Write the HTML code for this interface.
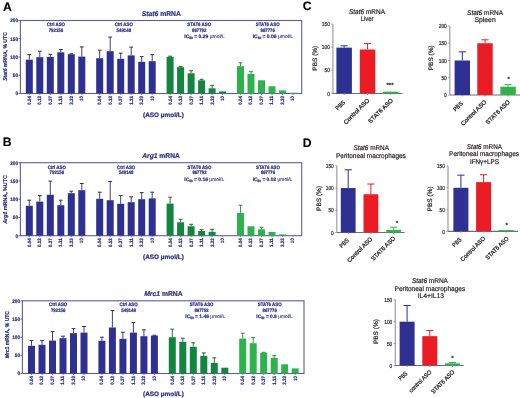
<!DOCTYPE html>
<html><head><meta charset="utf-8"><style>
html,body{margin:0;padding:0;background:#fff;width:520px;height:398px;overflow:hidden}
svg{display:block;will-change:transform;filter:blur(0.3px);font-family:"Liberation Sans",sans-serif}
text{text-rendering:geometricPrecision}
</style></head><body>
<svg width="520" height="398" viewBox="0 0 520 398">
<rect width="520" height="398" fill="#fff"/>
<rect x="20.4" y="20.5" width="281.3" height="73" fill="none" stroke="#5f5f98" stroke-width="1.1"/>
<line x1="18.6" y1="93.5" x2="20.4" y2="93.5" stroke="#5f5f98" stroke-width="1.1"/>
<text x="18" y="95.4" font-size="5.1" font-weight="bold" fill="#2b2d80" text-anchor="end" stroke="#2b2d80" stroke-width="0.22" textLength="2.6" lengthAdjust="spacingAndGlyphs" >0</text>
<line x1="18.6" y1="75.25" x2="20.4" y2="75.25" stroke="#5f5f98" stroke-width="1.1"/>
<text x="18" y="77.15" font-size="5.1" font-weight="bold" fill="#2b2d80" text-anchor="end" stroke="#2b2d80" stroke-width="0.22" textLength="5.2" lengthAdjust="spacingAndGlyphs" >50</text>
<line x1="18.6" y1="57" x2="20.4" y2="57" stroke="#5f5f98" stroke-width="1.1"/>
<text x="18" y="58.9" font-size="5.1" font-weight="bold" fill="#2b2d80" text-anchor="end" stroke="#2b2d80" stroke-width="0.22" textLength="7.8" lengthAdjust="spacingAndGlyphs" >100</text>
<line x1="18.6" y1="38.75" x2="20.4" y2="38.75" stroke="#5f5f98" stroke-width="1.1"/>
<text x="18" y="40.65" font-size="5.1" font-weight="bold" fill="#2b2d80" text-anchor="end" stroke="#2b2d80" stroke-width="0.22" textLength="7.8" lengthAdjust="spacingAndGlyphs" >150</text>
<line x1="18.6" y1="20.5" x2="20.4" y2="20.5" stroke="#5f5f98" stroke-width="1.1"/>
<text x="18" y="22.4" font-size="5.1" font-weight="bold" fill="#2b2d80" text-anchor="end" stroke="#2b2d80" stroke-width="0.22" textLength="7.8" lengthAdjust="spacingAndGlyphs" >200</text>
<text transform="translate(6.9,56.5) rotate(-90)" font-size="5.6" font-weight="bold" fill="#2b2d80" stroke="#2b2d80" stroke-width="0.2" text-anchor="middle" textLength="48.6" lengthAdjust="spacingAndGlyphs"><tspan font-style="italic">Stat6</tspan> mRNA, % UTC</text>
<text x="141.8" y="15.9" font-size="7" font-weight="bold" fill="#2b2d80" stroke="#2b2d80" stroke-width="0.2" textLength="39" lengthAdjust="spacingAndGlyphs"><tspan font-style="italic">Stat6</tspan> mRNA</text>
<line x1="29.3" y1="54.6" x2="29.3" y2="59.7" stroke="#2a2a66" stroke-width="0.9"/>
<line x1="27.4" y1="54.6" x2="31.2" y2="54.6" stroke="#2a2a66" stroke-width="1"/>
<rect x="25.8" y="59.7" width="7" height="33.8" fill="#2e3192"/>
<line x1="29.3" y1="93.5" x2="29.3" y2="95" stroke="#5f5f98" stroke-width="0.7"/>
<text transform="translate(30.7,96.1) rotate(-90)" font-size="4.9" font-weight="bold" fill="#2b2d80" text-anchor="end" stroke="#2b2d80" stroke-width="0.22" textLength="8.6" lengthAdjust="spacingAndGlyphs" >0.04</text>
<line x1="39.8" y1="51.2" x2="39.8" y2="57.2" stroke="#2a2a66" stroke-width="0.9"/>
<line x1="37.9" y1="51.2" x2="41.7" y2="51.2" stroke="#2a2a66" stroke-width="1"/>
<rect x="36.3" y="57.2" width="7" height="36.3" fill="#2e3192"/>
<line x1="39.8" y1="93.5" x2="39.8" y2="95" stroke="#5f5f98" stroke-width="0.7"/>
<text transform="translate(41.2,96.1) rotate(-90)" font-size="4.9" font-weight="bold" fill="#2b2d80" text-anchor="end" stroke="#2b2d80" stroke-width="0.22" textLength="8.6" lengthAdjust="spacingAndGlyphs" >0.12</text>
<line x1="50.3" y1="54.3" x2="50.3" y2="56.9" stroke="#2a2a66" stroke-width="0.9"/>
<line x1="48.4" y1="54.3" x2="52.2" y2="54.3" stroke="#2a2a66" stroke-width="1"/>
<rect x="46.8" y="56.9" width="7" height="36.6" fill="#2e3192"/>
<line x1="50.3" y1="93.5" x2="50.3" y2="95" stroke="#5f5f98" stroke-width="0.7"/>
<text transform="translate(51.7,96.1) rotate(-90)" font-size="4.9" font-weight="bold" fill="#2b2d80" text-anchor="end" stroke="#2b2d80" stroke-width="0.22" textLength="8.6" lengthAdjust="spacingAndGlyphs" >0.37</text>
<line x1="60.8" y1="49.5" x2="60.8" y2="52.3" stroke="#2a2a66" stroke-width="0.9"/>
<line x1="58.9" y1="49.5" x2="62.7" y2="49.5" stroke="#2a2a66" stroke-width="1"/>
<rect x="57.3" y="52.3" width="7" height="41.2" fill="#2e3192"/>
<line x1="60.8" y1="93.5" x2="60.8" y2="95" stroke="#5f5f98" stroke-width="0.7"/>
<text transform="translate(62.2,96.1) rotate(-90)" font-size="4.9" font-weight="bold" fill="#2b2d80" text-anchor="end" stroke="#2b2d80" stroke-width="0.22" textLength="8.6" lengthAdjust="spacingAndGlyphs" >1.11</text>
<line x1="71.3" y1="53.8" x2="71.3" y2="54.2" stroke="#2a2a66" stroke-width="0.9"/>
<line x1="69.4" y1="53.8" x2="73.2" y2="53.8" stroke="#2a2a66" stroke-width="1"/>
<rect x="67.8" y="54.2" width="7" height="39.3" fill="#2e3192"/>
<line x1="71.3" y1="93.5" x2="71.3" y2="95" stroke="#5f5f98" stroke-width="0.7"/>
<text transform="translate(72.7,96.1) rotate(-90)" font-size="4.9" font-weight="bold" fill="#2b2d80" text-anchor="end" stroke="#2b2d80" stroke-width="0.22" textLength="8.6" lengthAdjust="spacingAndGlyphs" >3.33</text>
<line x1="81.8" y1="46.9" x2="81.8" y2="56.6" stroke="#2a2a66" stroke-width="0.9"/>
<line x1="79.9" y1="46.9" x2="83.7" y2="46.9" stroke="#2a2a66" stroke-width="1"/>
<rect x="78.3" y="56.6" width="7" height="36.9" fill="#2e3192"/>
<line x1="81.8" y1="93.5" x2="81.8" y2="95" stroke="#5f5f98" stroke-width="0.7"/>
<text transform="translate(83.2,96.1) rotate(-90)" font-size="4.9" font-weight="bold" fill="#2b2d80" text-anchor="end" stroke="#2b2d80" stroke-width="0.22" textLength="4.6" lengthAdjust="spacingAndGlyphs" >10</text>
<line x1="99.7" y1="50.2" x2="99.7" y2="58.2" stroke="#2a2a66" stroke-width="0.9"/>
<line x1="97.8" y1="50.2" x2="101.6" y2="50.2" stroke="#2a2a66" stroke-width="1"/>
<rect x="96.2" y="58.2" width="7" height="35.3" fill="#2e3192"/>
<line x1="99.7" y1="93.5" x2="99.7" y2="95" stroke="#5f5f98" stroke-width="0.7"/>
<text transform="translate(101.1,96.1) rotate(-90)" font-size="4.9" font-weight="bold" fill="#2b2d80" text-anchor="end" stroke="#2b2d80" stroke-width="0.22" textLength="8.6" lengthAdjust="spacingAndGlyphs" >0.04</text>
<line x1="110.2" y1="37.1" x2="110.2" y2="51.2" stroke="#2a2a66" stroke-width="0.9"/>
<line x1="108.3" y1="37.1" x2="112.1" y2="37.1" stroke="#2a2a66" stroke-width="1"/>
<rect x="106.7" y="51.2" width="7" height="42.3" fill="#2e3192"/>
<line x1="110.2" y1="93.5" x2="110.2" y2="95" stroke="#5f5f98" stroke-width="0.7"/>
<text transform="translate(111.6,96.1) rotate(-90)" font-size="4.9" font-weight="bold" fill="#2b2d80" text-anchor="end" stroke="#2b2d80" stroke-width="0.22" textLength="8.6" lengthAdjust="spacingAndGlyphs" >0.12</text>
<line x1="120.7" y1="53.2" x2="120.7" y2="58.8" stroke="#2a2a66" stroke-width="0.9"/>
<line x1="118.8" y1="53.2" x2="122.6" y2="53.2" stroke="#2a2a66" stroke-width="1"/>
<rect x="117.2" y="58.8" width="7" height="34.7" fill="#2e3192"/>
<line x1="120.7" y1="93.5" x2="120.7" y2="95" stroke="#5f5f98" stroke-width="0.7"/>
<text transform="translate(122.1,96.1) rotate(-90)" font-size="4.9" font-weight="bold" fill="#2b2d80" text-anchor="end" stroke="#2b2d80" stroke-width="0.22" textLength="8.6" lengthAdjust="spacingAndGlyphs" >0.37</text>
<line x1="131.2" y1="47.1" x2="131.2" y2="55.4" stroke="#2a2a66" stroke-width="0.9"/>
<line x1="129.3" y1="47.1" x2="133.1" y2="47.1" stroke="#2a2a66" stroke-width="1"/>
<rect x="127.7" y="55.4" width="7" height="38.1" fill="#2e3192"/>
<line x1="131.2" y1="93.5" x2="131.2" y2="95" stroke="#5f5f98" stroke-width="0.7"/>
<text transform="translate(132.6,96.1) rotate(-90)" font-size="4.9" font-weight="bold" fill="#2b2d80" text-anchor="end" stroke="#2b2d80" stroke-width="0.22" textLength="8.6" lengthAdjust="spacingAndGlyphs" >1.11</text>
<line x1="141.7" y1="56.6" x2="141.7" y2="61.8" stroke="#2a2a66" stroke-width="0.9"/>
<line x1="139.8" y1="56.6" x2="143.6" y2="56.6" stroke="#2a2a66" stroke-width="1"/>
<rect x="138.2" y="61.8" width="7" height="31.7" fill="#2e3192"/>
<line x1="141.7" y1="93.5" x2="141.7" y2="95" stroke="#5f5f98" stroke-width="0.7"/>
<text transform="translate(143.1,96.1) rotate(-90)" font-size="4.9" font-weight="bold" fill="#2b2d80" text-anchor="end" stroke="#2b2d80" stroke-width="0.22" textLength="8.6" lengthAdjust="spacingAndGlyphs" >3.33</text>
<line x1="152.2" y1="54.6" x2="152.2" y2="61.2" stroke="#2a2a66" stroke-width="0.9"/>
<line x1="150.3" y1="54.6" x2="154.1" y2="54.6" stroke="#2a2a66" stroke-width="1"/>
<rect x="148.7" y="61.2" width="7" height="32.3" fill="#2e3192"/>
<line x1="152.2" y1="93.5" x2="152.2" y2="95" stroke="#5f5f98" stroke-width="0.7"/>
<text transform="translate(153.6,96.1) rotate(-90)" font-size="4.9" font-weight="bold" fill="#2b2d80" text-anchor="end" stroke="#2b2d80" stroke-width="0.22" textLength="4.6" lengthAdjust="spacingAndGlyphs" >10</text>
<line x1="170.1" y1="56.2" x2="170.1" y2="56.8" stroke="#235c38" stroke-width="0.9"/>
<line x1="168.2" y1="56.2" x2="172" y2="56.2" stroke="#235c38" stroke-width="1"/>
<rect x="166.6" y="56.8" width="7" height="36.7" fill="#12853e"/>
<line x1="170.1" y1="93.5" x2="170.1" y2="95" stroke="#5f5f98" stroke-width="0.7"/>
<text transform="translate(171.5,96.1) rotate(-90)" font-size="4.9" font-weight="bold" fill="#2b2d80" text-anchor="end" stroke="#2b2d80" stroke-width="0.22" textLength="8.6" lengthAdjust="spacingAndGlyphs" >0.04</text>
<line x1="180.6" y1="66.4" x2="180.6" y2="67.2" stroke="#235c38" stroke-width="0.9"/>
<line x1="178.7" y1="66.4" x2="182.5" y2="66.4" stroke="#235c38" stroke-width="1"/>
<rect x="177.1" y="67.2" width="7" height="26.3" fill="#12853e"/>
<line x1="180.6" y1="93.5" x2="180.6" y2="95" stroke="#5f5f98" stroke-width="0.7"/>
<text transform="translate(182,96.1) rotate(-90)" font-size="4.9" font-weight="bold" fill="#2b2d80" text-anchor="end" stroke="#2b2d80" stroke-width="0.22" textLength="8.6" lengthAdjust="spacingAndGlyphs" >0.12</text>
<line x1="191.1" y1="70.7" x2="191.1" y2="73.3" stroke="#235c38" stroke-width="0.9"/>
<line x1="189.2" y1="70.7" x2="193" y2="70.7" stroke="#235c38" stroke-width="1"/>
<rect x="187.6" y="73.3" width="7" height="20.2" fill="#12853e"/>
<line x1="191.1" y1="93.5" x2="191.1" y2="95" stroke="#5f5f98" stroke-width="0.7"/>
<text transform="translate(192.5,96.1) rotate(-90)" font-size="4.9" font-weight="bold" fill="#2b2d80" text-anchor="end" stroke="#2b2d80" stroke-width="0.22" textLength="8.6" lengthAdjust="spacingAndGlyphs" >0.37</text>
<line x1="201.6" y1="79.3" x2="201.6" y2="80.3" stroke="#235c38" stroke-width="0.9"/>
<line x1="199.7" y1="79.3" x2="203.5" y2="79.3" stroke="#235c38" stroke-width="1"/>
<rect x="198.1" y="80.3" width="7" height="13.2" fill="#12853e"/>
<line x1="201.6" y1="93.5" x2="201.6" y2="95" stroke="#5f5f98" stroke-width="0.7"/>
<text transform="translate(203,96.1) rotate(-90)" font-size="4.9" font-weight="bold" fill="#2b2d80" text-anchor="end" stroke="#2b2d80" stroke-width="0.22" textLength="8.6" lengthAdjust="spacingAndGlyphs" >1.11</text>
<line x1="212.1" y1="85.3" x2="212.1" y2="88.3" stroke="#235c38" stroke-width="0.9"/>
<line x1="210.2" y1="85.3" x2="214" y2="85.3" stroke="#235c38" stroke-width="1"/>
<rect x="208.6" y="88.3" width="7" height="5.2" fill="#12853e"/>
<line x1="212.1" y1="93.5" x2="212.1" y2="95" stroke="#5f5f98" stroke-width="0.7"/>
<text transform="translate(213.5,96.1) rotate(-90)" font-size="4.9" font-weight="bold" fill="#2b2d80" text-anchor="end" stroke="#2b2d80" stroke-width="0.22" textLength="8.6" lengthAdjust="spacingAndGlyphs" >3.33</text>
<rect x="219.1" y="91.4" width="7" height="2.1" fill="#12853e"/>
<line x1="222.6" y1="93.5" x2="222.6" y2="95" stroke="#5f5f98" stroke-width="0.7"/>
<text transform="translate(224,96.1) rotate(-90)" font-size="4.9" font-weight="bold" fill="#2b2d80" text-anchor="end" stroke="#2b2d80" stroke-width="0.22" textLength="4.6" lengthAdjust="spacingAndGlyphs" >10</text>
<line x1="240.5" y1="62.8" x2="240.5" y2="66.2" stroke="#2f7f45" stroke-width="0.9"/>
<line x1="238.6" y1="62.8" x2="242.4" y2="62.8" stroke="#2f7f45" stroke-width="1"/>
<rect x="237" y="66.2" width="7" height="27.3" fill="#2db34b"/>
<line x1="240.5" y1="93.5" x2="240.5" y2="95" stroke="#5f5f98" stroke-width="0.7"/>
<text transform="translate(241.9,96.1) rotate(-90)" font-size="4.9" font-weight="bold" fill="#2b2d80" text-anchor="end" stroke="#2b2d80" stroke-width="0.22" textLength="8.6" lengthAdjust="spacingAndGlyphs" >0.04</text>
<line x1="251" y1="71.7" x2="251" y2="73.9" stroke="#2f7f45" stroke-width="0.9"/>
<line x1="249.1" y1="71.7" x2="252.9" y2="71.7" stroke="#2f7f45" stroke-width="1"/>
<rect x="247.5" y="73.9" width="7" height="19.6" fill="#2db34b"/>
<line x1="251" y1="93.5" x2="251" y2="95" stroke="#5f5f98" stroke-width="0.7"/>
<text transform="translate(252.4,96.1) rotate(-90)" font-size="4.9" font-weight="bold" fill="#2b2d80" text-anchor="end" stroke="#2b2d80" stroke-width="0.22" textLength="8.6" lengthAdjust="spacingAndGlyphs" >0.12</text>
<rect x="258" y="80.3" width="7" height="13.2" fill="#2db34b"/>
<line x1="261.5" y1="93.5" x2="261.5" y2="95" stroke="#5f5f98" stroke-width="0.7"/>
<text transform="translate(262.9,96.1) rotate(-90)" font-size="4.9" font-weight="bold" fill="#2b2d80" text-anchor="end" stroke="#2b2d80" stroke-width="0.22" textLength="8.6" lengthAdjust="spacingAndGlyphs" >0.37</text>
<rect x="268.5" y="86.3" width="7" height="7.2" fill="#2db34b"/>
<line x1="272" y1="93.5" x2="272" y2="95" stroke="#5f5f98" stroke-width="0.7"/>
<text transform="translate(273.4,96.1) rotate(-90)" font-size="4.9" font-weight="bold" fill="#2b2d80" text-anchor="end" stroke="#2b2d80" stroke-width="0.22" textLength="8.6" lengthAdjust="spacingAndGlyphs" >1.11</text>
<rect x="279" y="90.4" width="7" height="3.1" fill="#2db34b"/>
<line x1="282.5" y1="93.5" x2="282.5" y2="95" stroke="#5f5f98" stroke-width="0.7"/>
<text transform="translate(283.9,96.1) rotate(-90)" font-size="4.9" font-weight="bold" fill="#2b2d80" text-anchor="end" stroke="#2b2d80" stroke-width="0.22" textLength="8.6" lengthAdjust="spacingAndGlyphs" >3.33</text>
<rect x="289.5" y="92.8" width="7" height="0.7" fill="#2db34b"/>
<line x1="293" y1="93.5" x2="293" y2="95" stroke="#5f5f98" stroke-width="0.7"/>
<text transform="translate(294.4,96.1) rotate(-90)" font-size="4.9" font-weight="bold" fill="#2b2d80" text-anchor="end" stroke="#2b2d80" stroke-width="0.22" textLength="4.6" lengthAdjust="spacingAndGlyphs" >10</text>
<text x="55.9" y="25.9" font-size="5" font-weight="bold" fill="#2b2d80" text-anchor="middle" stroke="#2b2d80" stroke-width="0.22" textLength="18.2" lengthAdjust="spacingAndGlyphs" >Ctrl ASO</text>
<text x="55.9" y="31.8" font-size="5" font-weight="bold" fill="#2b2d80" text-anchor="middle" stroke="#2b2d80" stroke-width="0.22" textLength="14.5" lengthAdjust="spacingAndGlyphs" >792156</text>
<text x="123.8" y="25.9" font-size="5" font-weight="bold" fill="#2b2d80" text-anchor="middle" stroke="#2b2d80" stroke-width="0.22" textLength="18.2" lengthAdjust="spacingAndGlyphs" >Ctrl ASO</text>
<text x="123.8" y="31.8" font-size="5" font-weight="bold" fill="#2b2d80" text-anchor="middle" stroke="#2b2d80" stroke-width="0.22" textLength="14.5" lengthAdjust="spacingAndGlyphs" >549148</text>
<text x="199.2" y="25.9" font-size="5" font-weight="bold" fill="#2b2d80" text-anchor="middle" stroke="#2b2d80" stroke-width="0.22" textLength="23.8" lengthAdjust="spacingAndGlyphs" >STAT6 ASO</text>
<text x="199.2" y="31.8" font-size="5" font-weight="bold" fill="#2b2d80" text-anchor="middle" stroke="#2b2d80" stroke-width="0.22" textLength="14.2" lengthAdjust="spacingAndGlyphs" >867792</text>
<text x="184.3" y="37.7" font-size="5.0" font-weight="bold" fill="#2b2d80" stroke="#2b2d80" stroke-width="0.2" textLength="40.5" lengthAdjust="spacingAndGlyphs">IC<tspan font-size="3.2" dy="1.1">50</tspan><tspan dy="-1.1"> = 0.29 </tspan><tspan font-weight="normal" stroke-width="0.1">µmol/L</tspan></text>
<text x="267.7" y="25.9" font-size="5" font-weight="bold" fill="#2b2d80" text-anchor="middle" stroke="#2b2d80" stroke-width="0.22" textLength="23.8" lengthAdjust="spacingAndGlyphs" >STAT6 ASO</text>
<text x="267.7" y="31.8" font-size="5" font-weight="bold" fill="#2b2d80" text-anchor="middle" stroke="#2b2d80" stroke-width="0.22" textLength="14.2" lengthAdjust="spacingAndGlyphs" >867776</text>
<text x="252.7" y="37.7" font-size="5.0" font-weight="bold" fill="#2b2d80" stroke="#2b2d80" stroke-width="0.2" textLength="40.2" lengthAdjust="spacingAndGlyphs">IC<tspan font-size="3.2" dy="1.1">50</tspan><tspan dy="-1.1"> = 0.06 </tspan><tspan font-weight="normal" stroke-width="0.1">µmol/L</tspan></text>
<text x="143" y="116.6" font-size="6.4" font-weight="bold" fill="#2b2d80" text-anchor="start" stroke="#2b2d80" stroke-width="0.22" textLength="40.8" lengthAdjust="spacingAndGlyphs" >(ASO µmol/L)</text>
<rect x="20.4" y="162.7" width="281.3" height="73" fill="none" stroke="#5f5f98" stroke-width="1.1"/>
<line x1="18.6" y1="235.7" x2="20.4" y2="235.7" stroke="#5f5f98" stroke-width="1.1"/>
<text x="18" y="237.6" font-size="5.1" font-weight="bold" fill="#2b2d80" text-anchor="end" stroke="#2b2d80" stroke-width="0.22" textLength="2.6" lengthAdjust="spacingAndGlyphs" >0</text>
<line x1="18.6" y1="217.45" x2="20.4" y2="217.45" stroke="#5f5f98" stroke-width="1.1"/>
<text x="18" y="219.35" font-size="5.1" font-weight="bold" fill="#2b2d80" text-anchor="end" stroke="#2b2d80" stroke-width="0.22" textLength="5.2" lengthAdjust="spacingAndGlyphs" >50</text>
<line x1="18.6" y1="199.2" x2="20.4" y2="199.2" stroke="#5f5f98" stroke-width="1.1"/>
<text x="18" y="201.1" font-size="5.1" font-weight="bold" fill="#2b2d80" text-anchor="end" stroke="#2b2d80" stroke-width="0.22" textLength="7.8" lengthAdjust="spacingAndGlyphs" >100</text>
<line x1="18.6" y1="180.95" x2="20.4" y2="180.95" stroke="#5f5f98" stroke-width="1.1"/>
<text x="18" y="182.85" font-size="5.1" font-weight="bold" fill="#2b2d80" text-anchor="end" stroke="#2b2d80" stroke-width="0.22" textLength="7.8" lengthAdjust="spacingAndGlyphs" >150</text>
<line x1="18.6" y1="162.7" x2="20.4" y2="162.7" stroke="#5f5f98" stroke-width="1.1"/>
<text x="18" y="164.6" font-size="5.1" font-weight="bold" fill="#2b2d80" text-anchor="end" stroke="#2b2d80" stroke-width="0.22" textLength="7.8" lengthAdjust="spacingAndGlyphs" >200</text>
<text transform="translate(6.9,199.5) rotate(-90)" font-size="5.6" font-weight="bold" fill="#2b2d80" stroke="#2b2d80" stroke-width="0.2" text-anchor="middle" textLength="48.5" lengthAdjust="spacingAndGlyphs"><tspan font-style="italic">Arg1</tspan> mRNA, %UTC</text>
<text x="142.2" y="157.8" font-size="7" font-weight="bold" fill="#2b2d80" stroke="#2b2d80" stroke-width="0.2" textLength="37.7" lengthAdjust="spacingAndGlyphs"><tspan font-style="italic">Arg1</tspan> mRNA</text>
<line x1="29.3" y1="200.2" x2="29.3" y2="205.8" stroke="#2a2a66" stroke-width="0.9"/>
<line x1="27.4" y1="200.2" x2="31.2" y2="200.2" stroke="#2a2a66" stroke-width="1"/>
<rect x="25.8" y="205.8" width="7" height="29.9" fill="#2e3192"/>
<line x1="29.3" y1="235.7" x2="29.3" y2="237.2" stroke="#5f5f98" stroke-width="0.7"/>
<text transform="translate(30.7,238.3) rotate(-90)" font-size="4.9" font-weight="bold" fill="#2b2d80" text-anchor="end" stroke="#2b2d80" stroke-width="0.22" textLength="8.6" lengthAdjust="spacingAndGlyphs" >0.04</text>
<line x1="39.8" y1="195.6" x2="39.8" y2="201.6" stroke="#2a2a66" stroke-width="0.9"/>
<line x1="37.9" y1="195.6" x2="41.7" y2="195.6" stroke="#2a2a66" stroke-width="1"/>
<rect x="36.3" y="201.6" width="7" height="34.1" fill="#2e3192"/>
<line x1="39.8" y1="235.7" x2="39.8" y2="237.2" stroke="#5f5f98" stroke-width="0.7"/>
<text transform="translate(41.2,238.3) rotate(-90)" font-size="4.9" font-weight="bold" fill="#2b2d80" text-anchor="end" stroke="#2b2d80" stroke-width="0.22" textLength="8.6" lengthAdjust="spacingAndGlyphs" >0.12</text>
<line x1="50.3" y1="181.1" x2="50.3" y2="194.8" stroke="#2a2a66" stroke-width="0.9"/>
<line x1="48.4" y1="181.1" x2="52.2" y2="181.1" stroke="#2a2a66" stroke-width="1"/>
<rect x="46.8" y="194.8" width="7" height="40.9" fill="#2e3192"/>
<line x1="50.3" y1="235.7" x2="50.3" y2="237.2" stroke="#5f5f98" stroke-width="0.7"/>
<text transform="translate(51.7,238.3) rotate(-90)" font-size="4.9" font-weight="bold" fill="#2b2d80" text-anchor="end" stroke="#2b2d80" stroke-width="0.22" textLength="8.6" lengthAdjust="spacingAndGlyphs" >0.37</text>
<line x1="60.8" y1="200.2" x2="60.8" y2="205.2" stroke="#2a2a66" stroke-width="0.9"/>
<line x1="58.9" y1="200.2" x2="62.7" y2="200.2" stroke="#2a2a66" stroke-width="1"/>
<rect x="57.3" y="205.2" width="7" height="30.5" fill="#2e3192"/>
<line x1="60.8" y1="235.7" x2="60.8" y2="237.2" stroke="#5f5f98" stroke-width="0.7"/>
<text transform="translate(62.2,238.3) rotate(-90)" font-size="4.9" font-weight="bold" fill="#2b2d80" text-anchor="end" stroke="#2b2d80" stroke-width="0.22" textLength="8.6" lengthAdjust="spacingAndGlyphs" >1.11</text>
<line x1="71.3" y1="191.2" x2="71.3" y2="193.2" stroke="#2a2a66" stroke-width="0.9"/>
<line x1="69.4" y1="191.2" x2="73.2" y2="191.2" stroke="#2a2a66" stroke-width="1"/>
<rect x="67.8" y="193.2" width="7" height="42.5" fill="#2e3192"/>
<line x1="71.3" y1="235.7" x2="71.3" y2="237.2" stroke="#5f5f98" stroke-width="0.7"/>
<text transform="translate(72.7,238.3) rotate(-90)" font-size="4.9" font-weight="bold" fill="#2b2d80" text-anchor="end" stroke="#2b2d80" stroke-width="0.22" textLength="8.6" lengthAdjust="spacingAndGlyphs" >3.33</text>
<line x1="81.8" y1="183.5" x2="81.8" y2="190.2" stroke="#2a2a66" stroke-width="0.9"/>
<line x1="79.9" y1="183.5" x2="83.7" y2="183.5" stroke="#2a2a66" stroke-width="1"/>
<rect x="78.3" y="190.2" width="7" height="45.5" fill="#2e3192"/>
<line x1="81.8" y1="235.7" x2="81.8" y2="237.2" stroke="#5f5f98" stroke-width="0.7"/>
<text transform="translate(83.2,238.3) rotate(-90)" font-size="4.9" font-weight="bold" fill="#2b2d80" text-anchor="end" stroke="#2b2d80" stroke-width="0.22" textLength="4.6" lengthAdjust="spacingAndGlyphs" >10</text>
<line x1="99.7" y1="192.2" x2="99.7" y2="198.8" stroke="#2a2a66" stroke-width="0.9"/>
<line x1="97.8" y1="192.2" x2="101.6" y2="192.2" stroke="#2a2a66" stroke-width="1"/>
<rect x="96.2" y="198.8" width="7" height="36.9" fill="#2e3192"/>
<line x1="99.7" y1="235.7" x2="99.7" y2="237.2" stroke="#5f5f98" stroke-width="0.7"/>
<text transform="translate(101.1,238.3) rotate(-90)" font-size="4.9" font-weight="bold" fill="#2b2d80" text-anchor="end" stroke="#2b2d80" stroke-width="0.22" textLength="8.6" lengthAdjust="spacingAndGlyphs" >0.04</text>
<line x1="110.2" y1="181.5" x2="110.2" y2="200.2" stroke="#2a2a66" stroke-width="0.9"/>
<line x1="108.3" y1="181.5" x2="112.1" y2="181.5" stroke="#2a2a66" stroke-width="1"/>
<rect x="106.7" y="200.2" width="7" height="35.5" fill="#2e3192"/>
<line x1="110.2" y1="235.7" x2="110.2" y2="237.2" stroke="#5f5f98" stroke-width="0.7"/>
<text transform="translate(111.6,238.3) rotate(-90)" font-size="4.9" font-weight="bold" fill="#2b2d80" text-anchor="end" stroke="#2b2d80" stroke-width="0.22" textLength="8.6" lengthAdjust="spacingAndGlyphs" >0.12</text>
<line x1="120.7" y1="195.6" x2="120.7" y2="203.8" stroke="#2a2a66" stroke-width="0.9"/>
<line x1="118.8" y1="195.6" x2="122.6" y2="195.6" stroke="#2a2a66" stroke-width="1"/>
<rect x="117.2" y="203.8" width="7" height="31.9" fill="#2e3192"/>
<line x1="120.7" y1="235.7" x2="120.7" y2="237.2" stroke="#5f5f98" stroke-width="0.7"/>
<text transform="translate(122.1,238.3) rotate(-90)" font-size="4.9" font-weight="bold" fill="#2b2d80" text-anchor="end" stroke="#2b2d80" stroke-width="0.22" textLength="8.6" lengthAdjust="spacingAndGlyphs" >0.37</text>
<line x1="131.2" y1="196.8" x2="131.2" y2="202.2" stroke="#2a2a66" stroke-width="0.9"/>
<line x1="129.3" y1="196.8" x2="133.1" y2="196.8" stroke="#2a2a66" stroke-width="1"/>
<rect x="127.7" y="202.2" width="7" height="33.5" fill="#2e3192"/>
<line x1="131.2" y1="235.7" x2="131.2" y2="237.2" stroke="#5f5f98" stroke-width="0.7"/>
<text transform="translate(132.6,238.3) rotate(-90)" font-size="4.9" font-weight="bold" fill="#2b2d80" text-anchor="end" stroke="#2b2d80" stroke-width="0.22" textLength="8.6" lengthAdjust="spacingAndGlyphs" >1.11</text>
<line x1="141.7" y1="192.6" x2="141.7" y2="199.2" stroke="#2a2a66" stroke-width="0.9"/>
<line x1="139.8" y1="192.6" x2="143.6" y2="192.6" stroke="#2a2a66" stroke-width="1"/>
<rect x="138.2" y="199.2" width="7" height="36.5" fill="#2e3192"/>
<line x1="141.7" y1="235.7" x2="141.7" y2="237.2" stroke="#5f5f98" stroke-width="0.7"/>
<text transform="translate(143.1,238.3) rotate(-90)" font-size="4.9" font-weight="bold" fill="#2b2d80" text-anchor="end" stroke="#2b2d80" stroke-width="0.22" textLength="8.6" lengthAdjust="spacingAndGlyphs" >3.33</text>
<line x1="152.2" y1="192.2" x2="152.2" y2="198.4" stroke="#2a2a66" stroke-width="0.9"/>
<line x1="150.3" y1="192.2" x2="154.1" y2="192.2" stroke="#2a2a66" stroke-width="1"/>
<rect x="148.7" y="198.4" width="7" height="37.3" fill="#2e3192"/>
<line x1="152.2" y1="235.7" x2="152.2" y2="237.2" stroke="#5f5f98" stroke-width="0.7"/>
<text transform="translate(153.6,238.3) rotate(-90)" font-size="4.9" font-weight="bold" fill="#2b2d80" text-anchor="end" stroke="#2b2d80" stroke-width="0.22" textLength="4.6" lengthAdjust="spacingAndGlyphs" >10</text>
<line x1="170.1" y1="197.2" x2="170.1" y2="203.6" stroke="#235c38" stroke-width="0.9"/>
<line x1="168.2" y1="197.2" x2="172" y2="197.2" stroke="#235c38" stroke-width="1"/>
<rect x="166.6" y="203.6" width="7" height="32.1" fill="#12853e"/>
<line x1="170.1" y1="235.7" x2="170.1" y2="237.2" stroke="#5f5f98" stroke-width="0.7"/>
<text transform="translate(171.5,238.3) rotate(-90)" font-size="4.9" font-weight="bold" fill="#2b2d80" text-anchor="end" stroke="#2b2d80" stroke-width="0.22" textLength="8.6" lengthAdjust="spacingAndGlyphs" >0.04</text>
<line x1="180.6" y1="219.3" x2="180.6" y2="222.3" stroke="#235c38" stroke-width="0.9"/>
<line x1="178.7" y1="219.3" x2="182.5" y2="219.3" stroke="#235c38" stroke-width="1"/>
<rect x="177.1" y="222.3" width="7" height="13.4" fill="#12853e"/>
<line x1="180.6" y1="235.7" x2="180.6" y2="237.2" stroke="#5f5f98" stroke-width="0.7"/>
<text transform="translate(182,238.3) rotate(-90)" font-size="4.9" font-weight="bold" fill="#2b2d80" text-anchor="end" stroke="#2b2d80" stroke-width="0.22" textLength="8.6" lengthAdjust="spacingAndGlyphs" >0.12</text>
<line x1="191.1" y1="224.3" x2="191.1" y2="226.3" stroke="#235c38" stroke-width="0.9"/>
<line x1="189.2" y1="224.3" x2="193" y2="224.3" stroke="#235c38" stroke-width="1"/>
<rect x="187.6" y="226.3" width="7" height="9.4" fill="#12853e"/>
<line x1="191.1" y1="235.7" x2="191.1" y2="237.2" stroke="#5f5f98" stroke-width="0.7"/>
<text transform="translate(192.5,238.3) rotate(-90)" font-size="4.9" font-weight="bold" fill="#2b2d80" text-anchor="end" stroke="#2b2d80" stroke-width="0.22" textLength="8.6" lengthAdjust="spacingAndGlyphs" >0.37</text>
<line x1="201.6" y1="229.7" x2="201.6" y2="231" stroke="#235c38" stroke-width="0.9"/>
<line x1="199.7" y1="229.7" x2="203.5" y2="229.7" stroke="#235c38" stroke-width="1"/>
<rect x="198.1" y="231" width="7" height="4.7" fill="#12853e"/>
<line x1="201.6" y1="235.7" x2="201.6" y2="237.2" stroke="#5f5f98" stroke-width="0.7"/>
<text transform="translate(203,238.3) rotate(-90)" font-size="4.9" font-weight="bold" fill="#2b2d80" text-anchor="end" stroke="#2b2d80" stroke-width="0.22" textLength="8.6" lengthAdjust="spacingAndGlyphs" >1.11</text>
<line x1="212.1" y1="229.3" x2="212.1" y2="231.8" stroke="#235c38" stroke-width="0.9"/>
<line x1="210.2" y1="229.3" x2="214" y2="229.3" stroke="#235c38" stroke-width="1"/>
<rect x="208.6" y="231.8" width="7" height="3.9" fill="#12853e"/>
<line x1="212.1" y1="235.7" x2="212.1" y2="237.2" stroke="#5f5f98" stroke-width="0.7"/>
<text transform="translate(213.5,238.3) rotate(-90)" font-size="4.9" font-weight="bold" fill="#2b2d80" text-anchor="end" stroke="#2b2d80" stroke-width="0.22" textLength="8.6" lengthAdjust="spacingAndGlyphs" >3.33</text>
<line x1="222.6" y1="235.7" x2="222.6" y2="237.2" stroke="#5f5f98" stroke-width="0.7"/>
<text transform="translate(224,238.3) rotate(-90)" font-size="4.9" font-weight="bold" fill="#2b2d80" text-anchor="end" stroke="#2b2d80" stroke-width="0.22" textLength="4.6" lengthAdjust="spacingAndGlyphs" >10</text>
<line x1="240.5" y1="205.2" x2="240.5" y2="212.9" stroke="#2f7f45" stroke-width="0.9"/>
<line x1="238.6" y1="205.2" x2="242.4" y2="205.2" stroke="#2f7f45" stroke-width="1"/>
<rect x="237" y="212.9" width="7" height="22.8" fill="#2db34b"/>
<line x1="240.5" y1="235.7" x2="240.5" y2="237.2" stroke="#5f5f98" stroke-width="0.7"/>
<text transform="translate(241.9,238.3) rotate(-90)" font-size="4.9" font-weight="bold" fill="#2b2d80" text-anchor="end" stroke="#2b2d80" stroke-width="0.22" textLength="8.6" lengthAdjust="spacingAndGlyphs" >0.04</text>
<rect x="247.5" y="226.3" width="7" height="9.4" fill="#2db34b"/>
<line x1="251" y1="235.7" x2="251" y2="237.2" stroke="#5f5f98" stroke-width="0.7"/>
<text transform="translate(252.4,238.3) rotate(-90)" font-size="4.9" font-weight="bold" fill="#2b2d80" text-anchor="end" stroke="#2b2d80" stroke-width="0.22" textLength="8.6" lengthAdjust="spacingAndGlyphs" >0.12</text>
<line x1="261.5" y1="227.3" x2="261.5" y2="229.3" stroke="#2f7f45" stroke-width="0.9"/>
<line x1="259.6" y1="227.3" x2="263.4" y2="227.3" stroke="#2f7f45" stroke-width="1"/>
<rect x="258" y="229.3" width="7" height="6.4" fill="#2db34b"/>
<line x1="261.5" y1="235.7" x2="261.5" y2="237.2" stroke="#5f5f98" stroke-width="0.7"/>
<text transform="translate(262.9,238.3) rotate(-90)" font-size="4.9" font-weight="bold" fill="#2b2d80" text-anchor="end" stroke="#2b2d80" stroke-width="0.22" textLength="8.6" lengthAdjust="spacingAndGlyphs" >0.37</text>
<rect x="268.5" y="232" width="7" height="3.7" fill="#2db34b"/>
<line x1="272" y1="235.7" x2="272" y2="237.2" stroke="#5f5f98" stroke-width="0.7"/>
<text transform="translate(273.4,238.3) rotate(-90)" font-size="4.9" font-weight="bold" fill="#2b2d80" text-anchor="end" stroke="#2b2d80" stroke-width="0.22" textLength="8.6" lengthAdjust="spacingAndGlyphs" >1.11</text>
<rect x="279" y="234.4" width="7" height="1.3" fill="#2db34b"/>
<line x1="282.5" y1="235.7" x2="282.5" y2="237.2" stroke="#5f5f98" stroke-width="0.7"/>
<text transform="translate(283.9,238.3) rotate(-90)" font-size="4.9" font-weight="bold" fill="#2b2d80" text-anchor="end" stroke="#2b2d80" stroke-width="0.22" textLength="8.6" lengthAdjust="spacingAndGlyphs" >3.33</text>
<line x1="293" y1="235.7" x2="293" y2="237.2" stroke="#5f5f98" stroke-width="0.7"/>
<text transform="translate(294.4,238.3) rotate(-90)" font-size="4.9" font-weight="bold" fill="#2b2d80" text-anchor="end" stroke="#2b2d80" stroke-width="0.22" textLength="4.6" lengthAdjust="spacingAndGlyphs" >10</text>
<text x="56.8" y="168.5" font-size="5" font-weight="bold" fill="#2b2d80" text-anchor="middle" stroke="#2b2d80" stroke-width="0.22" textLength="18.2" lengthAdjust="spacingAndGlyphs" >Ctrl ASO</text>
<text x="56.8" y="174.2" font-size="5" font-weight="bold" fill="#2b2d80" text-anchor="middle" stroke="#2b2d80" stroke-width="0.22" textLength="14.5" lengthAdjust="spacingAndGlyphs" >792156</text>
<text x="126.2" y="168.5" font-size="5" font-weight="bold" fill="#2b2d80" text-anchor="middle" stroke="#2b2d80" stroke-width="0.22" textLength="18.2" lengthAdjust="spacingAndGlyphs" >Ctrl ASO</text>
<text x="126.2" y="174.2" font-size="5" font-weight="bold" fill="#2b2d80" text-anchor="middle" stroke="#2b2d80" stroke-width="0.22" textLength="14.5" lengthAdjust="spacingAndGlyphs" >549148</text>
<text x="199.5" y="168.5" font-size="5" font-weight="bold" fill="#2b2d80" text-anchor="middle" stroke="#2b2d80" stroke-width="0.22" textLength="23.8" lengthAdjust="spacingAndGlyphs" >STAT6 ASO</text>
<text x="199.5" y="174.2" font-size="5" font-weight="bold" fill="#2b2d80" text-anchor="middle" stroke="#2b2d80" stroke-width="0.22" textLength="14.2" lengthAdjust="spacingAndGlyphs" >867792</text>
<text x="184.3" y="180.6" font-size="5.0" font-weight="bold" fill="#2b2d80" stroke="#2b2d80" stroke-width="0.2" textLength="39.9" lengthAdjust="spacingAndGlyphs">IC<tspan font-size="3.2" dy="1.1">50</tspan><tspan dy="-1.1"> = 0.16 </tspan><tspan font-weight="normal" stroke-width="0.1">µmol/L</tspan></text>
<text x="268" y="168.5" font-size="5" font-weight="bold" fill="#2b2d80" text-anchor="middle" stroke="#2b2d80" stroke-width="0.22" textLength="23.8" lengthAdjust="spacingAndGlyphs" >STAT6 ASO</text>
<text x="268" y="174.2" font-size="5" font-weight="bold" fill="#2b2d80" text-anchor="middle" stroke="#2b2d80" stroke-width="0.22" textLength="14.2" lengthAdjust="spacingAndGlyphs" >867776</text>
<text x="252.7" y="180.6" font-size="5.0" font-weight="bold" fill="#2b2d80" stroke="#2b2d80" stroke-width="0.2" textLength="39.6" lengthAdjust="spacingAndGlyphs">IC<tspan font-size="3.2" dy="1.1">50</tspan><tspan dy="-1.1"> = 0.02 </tspan><tspan font-weight="normal" stroke-width="0.1">µmol/L</tspan></text>
<text x="143" y="259.2" font-size="6.4" font-weight="bold" fill="#2b2d80" text-anchor="start" stroke="#2b2d80" stroke-width="0.22" textLength="40.8" lengthAdjust="spacingAndGlyphs" >(ASO µmol/L)</text>
<rect x="22.4" y="300.8" width="281.6" height="72.7" fill="none" stroke="#5f5f98" stroke-width="1.1"/>
<line x1="20.6" y1="373.5" x2="22.4" y2="373.5" stroke="#5f5f98" stroke-width="1.1"/>
<text x="20" y="375.4" font-size="5.1" font-weight="bold" fill="#2b2d80" text-anchor="end" stroke="#2b2d80" stroke-width="0.22" textLength="2.6" lengthAdjust="spacingAndGlyphs" >0</text>
<line x1="20.6" y1="355.32" x2="22.4" y2="355.32" stroke="#5f5f98" stroke-width="1.1"/>
<text x="20" y="357.22" font-size="5.1" font-weight="bold" fill="#2b2d80" text-anchor="end" stroke="#2b2d80" stroke-width="0.22" textLength="5.2" lengthAdjust="spacingAndGlyphs" >50</text>
<line x1="20.6" y1="337.15" x2="22.4" y2="337.15" stroke="#5f5f98" stroke-width="1.1"/>
<text x="20" y="339.05" font-size="5.1" font-weight="bold" fill="#2b2d80" text-anchor="end" stroke="#2b2d80" stroke-width="0.22" textLength="7.8" lengthAdjust="spacingAndGlyphs" >100</text>
<line x1="20.6" y1="318.98" x2="22.4" y2="318.98" stroke="#5f5f98" stroke-width="1.1"/>
<text x="20" y="320.88" font-size="5.1" font-weight="bold" fill="#2b2d80" text-anchor="end" stroke="#2b2d80" stroke-width="0.22" textLength="7.8" lengthAdjust="spacingAndGlyphs" >150</text>
<line x1="20.6" y1="300.8" x2="22.4" y2="300.8" stroke="#5f5f98" stroke-width="1.1"/>
<text x="20" y="302.7" font-size="5.1" font-weight="bold" fill="#2b2d80" text-anchor="end" stroke="#2b2d80" stroke-width="0.22" textLength="7.8" lengthAdjust="spacingAndGlyphs" >200</text>
<text transform="translate(8.6,334.7) rotate(-90)" font-size="5.6" font-weight="bold" fill="#2b2d80" stroke="#2b2d80" stroke-width="0.2" text-anchor="middle" textLength="47.3" lengthAdjust="spacingAndGlyphs"><tspan font-style="italic">Mrc1</tspan> mRNA, % UTC</text>
<text x="144.2" y="295.7" font-size="7" font-weight="bold" fill="#2b2d80" stroke="#2b2d80" stroke-width="0.2" textLength="38.4" lengthAdjust="spacingAndGlyphs"><tspan font-style="italic">Mrc1</tspan> mRNA</text>
<line x1="31.5" y1="340.6" x2="31.5" y2="345.8" stroke="#2a2a66" stroke-width="0.9"/>
<line x1="29.6" y1="340.6" x2="33.4" y2="340.6" stroke="#2a2a66" stroke-width="1"/>
<rect x="28" y="345.8" width="7" height="27.7" fill="#2e3192"/>
<line x1="31.5" y1="373.5" x2="31.5" y2="375" stroke="#5f5f98" stroke-width="0.7"/>
<text transform="translate(32.9,376.1) rotate(-90)" font-size="4.9" font-weight="bold" fill="#2b2d80" text-anchor="end" stroke="#2b2d80" stroke-width="0.22" textLength="8.6" lengthAdjust="spacingAndGlyphs" >0.04</text>
<line x1="42" y1="340.6" x2="42" y2="344.8" stroke="#2a2a66" stroke-width="0.9"/>
<line x1="40.1" y1="340.6" x2="43.9" y2="340.6" stroke="#2a2a66" stroke-width="1"/>
<rect x="38.5" y="344.8" width="7" height="28.7" fill="#2e3192"/>
<line x1="42" y1="373.5" x2="42" y2="375" stroke="#5f5f98" stroke-width="0.7"/>
<text transform="translate(43.4,376.1) rotate(-90)" font-size="4.9" font-weight="bold" fill="#2b2d80" text-anchor="end" stroke="#2b2d80" stroke-width="0.22" textLength="8.6" lengthAdjust="spacingAndGlyphs" >0.12</text>
<line x1="52.5" y1="331.6" x2="52.5" y2="340.6" stroke="#2a2a66" stroke-width="0.9"/>
<line x1="50.6" y1="331.6" x2="54.4" y2="331.6" stroke="#2a2a66" stroke-width="1"/>
<rect x="49" y="340.6" width="7" height="32.9" fill="#2e3192"/>
<line x1="52.5" y1="373.5" x2="52.5" y2="375" stroke="#5f5f98" stroke-width="0.7"/>
<text transform="translate(53.9,376.1) rotate(-90)" font-size="4.9" font-weight="bold" fill="#2b2d80" text-anchor="end" stroke="#2b2d80" stroke-width="0.22" textLength="8.6" lengthAdjust="spacingAndGlyphs" >0.37</text>
<line x1="63" y1="336.2" x2="63" y2="338.2" stroke="#2a2a66" stroke-width="0.9"/>
<line x1="61.1" y1="336.2" x2="64.9" y2="336.2" stroke="#2a2a66" stroke-width="1"/>
<rect x="59.5" y="338.2" width="7" height="35.3" fill="#2e3192"/>
<line x1="63" y1="373.5" x2="63" y2="375" stroke="#5f5f98" stroke-width="0.7"/>
<text transform="translate(64.4,376.1) rotate(-90)" font-size="4.9" font-weight="bold" fill="#2b2d80" text-anchor="end" stroke="#2b2d80" stroke-width="0.22" textLength="8.6" lengthAdjust="spacingAndGlyphs" >1.11</text>
<line x1="73.5" y1="328.6" x2="73.5" y2="333.2" stroke="#2a2a66" stroke-width="0.9"/>
<line x1="71.6" y1="328.6" x2="75.4" y2="328.6" stroke="#2a2a66" stroke-width="1"/>
<rect x="70" y="333.2" width="7" height="40.3" fill="#2e3192"/>
<line x1="73.5" y1="373.5" x2="73.5" y2="375" stroke="#5f5f98" stroke-width="0.7"/>
<text transform="translate(74.9,376.1) rotate(-90)" font-size="4.9" font-weight="bold" fill="#2b2d80" text-anchor="end" stroke="#2b2d80" stroke-width="0.22" textLength="8.6" lengthAdjust="spacingAndGlyphs" >3.33</text>
<line x1="84" y1="326.5" x2="84" y2="332.6" stroke="#2a2a66" stroke-width="0.9"/>
<line x1="82.1" y1="326.5" x2="85.9" y2="326.5" stroke="#2a2a66" stroke-width="1"/>
<rect x="80.5" y="332.6" width="7" height="40.9" fill="#2e3192"/>
<line x1="84" y1="373.5" x2="84" y2="375" stroke="#5f5f98" stroke-width="0.7"/>
<text transform="translate(85.4,376.1) rotate(-90)" font-size="4.9" font-weight="bold" fill="#2b2d80" text-anchor="end" stroke="#2b2d80" stroke-width="0.22" textLength="4.6" lengthAdjust="spacingAndGlyphs" >10</text>
<line x1="101.9" y1="337.2" x2="101.9" y2="340.8" stroke="#2a2a66" stroke-width="0.9"/>
<line x1="100" y1="337.2" x2="103.8" y2="337.2" stroke="#2a2a66" stroke-width="1"/>
<rect x="98.4" y="340.8" width="7" height="32.7" fill="#2e3192"/>
<line x1="101.9" y1="373.5" x2="101.9" y2="375" stroke="#5f5f98" stroke-width="0.7"/>
<text transform="translate(103.3,376.1) rotate(-90)" font-size="4.9" font-weight="bold" fill="#2b2d80" text-anchor="end" stroke="#2b2d80" stroke-width="0.22" textLength="8.6" lengthAdjust="spacingAndGlyphs" >0.04</text>
<line x1="112.4" y1="310.5" x2="112.4" y2="327.5" stroke="#2a2a66" stroke-width="0.9"/>
<line x1="110.5" y1="310.5" x2="114.3" y2="310.5" stroke="#2a2a66" stroke-width="1"/>
<rect x="108.9" y="327.5" width="7" height="46" fill="#2e3192"/>
<line x1="112.4" y1="373.5" x2="112.4" y2="375" stroke="#5f5f98" stroke-width="0.7"/>
<text transform="translate(113.8,376.1) rotate(-90)" font-size="4.9" font-weight="bold" fill="#2b2d80" text-anchor="end" stroke="#2b2d80" stroke-width="0.22" textLength="8.6" lengthAdjust="spacingAndGlyphs" >0.12</text>
<line x1="122.9" y1="332.2" x2="122.9" y2="338.8" stroke="#2a2a66" stroke-width="0.9"/>
<line x1="121" y1="332.2" x2="124.8" y2="332.2" stroke="#2a2a66" stroke-width="1"/>
<rect x="119.4" y="338.8" width="7" height="34.7" fill="#2e3192"/>
<line x1="122.9" y1="373.5" x2="122.9" y2="375" stroke="#5f5f98" stroke-width="0.7"/>
<text transform="translate(124.3,376.1) rotate(-90)" font-size="4.9" font-weight="bold" fill="#2b2d80" text-anchor="end" stroke="#2b2d80" stroke-width="0.22" textLength="8.6" lengthAdjust="spacingAndGlyphs" >0.37</text>
<line x1="133.4" y1="322.5" x2="133.4" y2="332.6" stroke="#2a2a66" stroke-width="0.9"/>
<line x1="131.5" y1="322.5" x2="135.3" y2="322.5" stroke="#2a2a66" stroke-width="1"/>
<rect x="129.9" y="332.6" width="7" height="40.9" fill="#2e3192"/>
<line x1="133.4" y1="373.5" x2="133.4" y2="375" stroke="#5f5f98" stroke-width="0.7"/>
<text transform="translate(134.8,376.1) rotate(-90)" font-size="4.9" font-weight="bold" fill="#2b2d80" text-anchor="end" stroke="#2b2d80" stroke-width="0.22" textLength="8.6" lengthAdjust="spacingAndGlyphs" >1.11</text>
<line x1="143.9" y1="329.8" x2="143.9" y2="336.2" stroke="#2a2a66" stroke-width="0.9"/>
<line x1="142" y1="329.8" x2="145.8" y2="329.8" stroke="#2a2a66" stroke-width="1"/>
<rect x="140.4" y="336.2" width="7" height="37.3" fill="#2e3192"/>
<line x1="143.9" y1="373.5" x2="143.9" y2="375" stroke="#5f5f98" stroke-width="0.7"/>
<text transform="translate(145.3,376.1) rotate(-90)" font-size="4.9" font-weight="bold" fill="#2b2d80" text-anchor="end" stroke="#2b2d80" stroke-width="0.22" textLength="8.6" lengthAdjust="spacingAndGlyphs" >3.33</text>
<line x1="154.4" y1="335.2" x2="154.4" y2="335.6" stroke="#2a2a66" stroke-width="0.9"/>
<line x1="152.5" y1="335.2" x2="156.3" y2="335.2" stroke="#2a2a66" stroke-width="1"/>
<rect x="150.9" y="335.6" width="7" height="37.9" fill="#2e3192"/>
<line x1="154.4" y1="373.5" x2="154.4" y2="375" stroke="#5f5f98" stroke-width="0.7"/>
<text transform="translate(155.8,376.1) rotate(-90)" font-size="4.9" font-weight="bold" fill="#2b2d80" text-anchor="end" stroke="#2b2d80" stroke-width="0.22" textLength="4.6" lengthAdjust="spacingAndGlyphs" >10</text>
<line x1="172.3" y1="329.2" x2="172.3" y2="337.2" stroke="#235c38" stroke-width="0.9"/>
<line x1="170.4" y1="329.2" x2="174.2" y2="329.2" stroke="#235c38" stroke-width="1"/>
<rect x="168.8" y="337.2" width="7" height="36.3" fill="#12853e"/>
<line x1="172.3" y1="373.5" x2="172.3" y2="375" stroke="#5f5f98" stroke-width="0.7"/>
<text transform="translate(173.7,376.1) rotate(-90)" font-size="4.9" font-weight="bold" fill="#2b2d80" text-anchor="end" stroke="#2b2d80" stroke-width="0.22" textLength="8.6" lengthAdjust="spacingAndGlyphs" >0.04</text>
<line x1="182.8" y1="338.2" x2="182.8" y2="341.8" stroke="#235c38" stroke-width="0.9"/>
<line x1="180.9" y1="338.2" x2="184.7" y2="338.2" stroke="#235c38" stroke-width="1"/>
<rect x="179.3" y="341.8" width="7" height="31.7" fill="#12853e"/>
<line x1="182.8" y1="373.5" x2="182.8" y2="375" stroke="#5f5f98" stroke-width="0.7"/>
<text transform="translate(184.2,376.1) rotate(-90)" font-size="4.9" font-weight="bold" fill="#2b2d80" text-anchor="end" stroke="#2b2d80" stroke-width="0.22" textLength="8.6" lengthAdjust="spacingAndGlyphs" >0.12</text>
<line x1="193.3" y1="342.8" x2="193.3" y2="346.8" stroke="#235c38" stroke-width="0.9"/>
<line x1="191.4" y1="342.8" x2="195.2" y2="342.8" stroke="#235c38" stroke-width="1"/>
<rect x="189.8" y="346.8" width="7" height="26.7" fill="#12853e"/>
<line x1="193.3" y1="373.5" x2="193.3" y2="375" stroke="#5f5f98" stroke-width="0.7"/>
<text transform="translate(194.7,376.1) rotate(-90)" font-size="4.9" font-weight="bold" fill="#2b2d80" text-anchor="end" stroke="#2b2d80" stroke-width="0.22" textLength="8.6" lengthAdjust="spacingAndGlyphs" >0.37</text>
<line x1="203.8" y1="352.9" x2="203.8" y2="355.9" stroke="#235c38" stroke-width="0.9"/>
<line x1="201.9" y1="352.9" x2="205.7" y2="352.9" stroke="#235c38" stroke-width="1"/>
<rect x="200.3" y="355.9" width="7" height="17.6" fill="#12853e"/>
<line x1="203.8" y1="373.5" x2="203.8" y2="375" stroke="#5f5f98" stroke-width="0.7"/>
<text transform="translate(205.2,376.1) rotate(-90)" font-size="4.9" font-weight="bold" fill="#2b2d80" text-anchor="end" stroke="#2b2d80" stroke-width="0.22" textLength="8.6" lengthAdjust="spacingAndGlyphs" >1.11</text>
<line x1="214.3" y1="357.9" x2="214.3" y2="362.9" stroke="#235c38" stroke-width="0.9"/>
<line x1="212.4" y1="357.9" x2="216.2" y2="357.9" stroke="#235c38" stroke-width="1"/>
<rect x="210.8" y="362.9" width="7" height="10.6" fill="#12853e"/>
<line x1="214.3" y1="373.5" x2="214.3" y2="375" stroke="#5f5f98" stroke-width="0.7"/>
<text transform="translate(215.7,376.1) rotate(-90)" font-size="4.9" font-weight="bold" fill="#2b2d80" text-anchor="end" stroke="#2b2d80" stroke-width="0.22" textLength="8.6" lengthAdjust="spacingAndGlyphs" >3.33</text>
<rect x="221.3" y="367.7" width="7" height="5.8" fill="#12853e"/>
<line x1="224.8" y1="373.5" x2="224.8" y2="375" stroke="#5f5f98" stroke-width="0.7"/>
<text transform="translate(226.2,376.1) rotate(-90)" font-size="4.9" font-weight="bold" fill="#2b2d80" text-anchor="end" stroke="#2b2d80" stroke-width="0.22" textLength="4.6" lengthAdjust="spacingAndGlyphs" >10</text>
<line x1="242.7" y1="333.2" x2="242.7" y2="338.6" stroke="#2f7f45" stroke-width="0.9"/>
<line x1="240.8" y1="333.2" x2="244.6" y2="333.2" stroke="#2f7f45" stroke-width="1"/>
<rect x="239.2" y="338.6" width="7" height="34.9" fill="#2db34b"/>
<line x1="242.7" y1="373.5" x2="242.7" y2="375" stroke="#5f5f98" stroke-width="0.7"/>
<text transform="translate(244.1,376.1) rotate(-90)" font-size="4.9" font-weight="bold" fill="#2b2d80" text-anchor="end" stroke="#2b2d80" stroke-width="0.22" textLength="8.6" lengthAdjust="spacingAndGlyphs" >0.04</text>
<line x1="253.2" y1="337.6" x2="253.2" y2="343.2" stroke="#2f7f45" stroke-width="0.9"/>
<line x1="251.3" y1="337.6" x2="255.1" y2="337.6" stroke="#2f7f45" stroke-width="1"/>
<rect x="249.7" y="343.2" width="7" height="30.3" fill="#2db34b"/>
<line x1="253.2" y1="373.5" x2="253.2" y2="375" stroke="#5f5f98" stroke-width="0.7"/>
<text transform="translate(254.6,376.1) rotate(-90)" font-size="4.9" font-weight="bold" fill="#2b2d80" text-anchor="end" stroke="#2b2d80" stroke-width="0.22" textLength="8.6" lengthAdjust="spacingAndGlyphs" >0.12</text>
<line x1="263.7" y1="352.3" x2="263.7" y2="352.7" stroke="#2f7f45" stroke-width="0.9"/>
<line x1="261.8" y1="352.3" x2="265.6" y2="352.3" stroke="#2f7f45" stroke-width="1"/>
<rect x="260.2" y="352.7" width="7" height="20.8" fill="#2db34b"/>
<line x1="263.7" y1="373.5" x2="263.7" y2="375" stroke="#5f5f98" stroke-width="0.7"/>
<text transform="translate(265.1,376.1) rotate(-90)" font-size="4.9" font-weight="bold" fill="#2b2d80" text-anchor="end" stroke="#2b2d80" stroke-width="0.22" textLength="8.6" lengthAdjust="spacingAndGlyphs" >0.37</text>
<line x1="274.2" y1="355.7" x2="274.2" y2="357.9" stroke="#2f7f45" stroke-width="0.9"/>
<line x1="272.3" y1="355.7" x2="276.1" y2="355.7" stroke="#2f7f45" stroke-width="1"/>
<rect x="270.7" y="357.9" width="7" height="15.6" fill="#2db34b"/>
<line x1="274.2" y1="373.5" x2="274.2" y2="375" stroke="#5f5f98" stroke-width="0.7"/>
<text transform="translate(275.6,376.1) rotate(-90)" font-size="4.9" font-weight="bold" fill="#2b2d80" text-anchor="end" stroke="#2b2d80" stroke-width="0.22" textLength="8.6" lengthAdjust="spacingAndGlyphs" >1.11</text>
<rect x="281.2" y="364.3" width="7" height="9.2" fill="#2db34b"/>
<line x1="284.7" y1="373.5" x2="284.7" y2="375" stroke="#5f5f98" stroke-width="0.7"/>
<text transform="translate(286.1,376.1) rotate(-90)" font-size="4.9" font-weight="bold" fill="#2b2d80" text-anchor="end" stroke="#2b2d80" stroke-width="0.22" textLength="8.6" lengthAdjust="spacingAndGlyphs" >3.33</text>
<rect x="291.7" y="368.4" width="7" height="5.1" fill="#2db34b"/>
<line x1="295.2" y1="373.5" x2="295.2" y2="375" stroke="#5f5f98" stroke-width="0.7"/>
<text transform="translate(296.6,376.1) rotate(-90)" font-size="4.9" font-weight="bold" fill="#2b2d80" text-anchor="end" stroke="#2b2d80" stroke-width="0.22" textLength="4.6" lengthAdjust="spacingAndGlyphs" >10</text>
<text x="58.2" y="306.2" font-size="5" font-weight="bold" fill="#2b2d80" text-anchor="middle" stroke="#2b2d80" stroke-width="0.22" textLength="18.2" lengthAdjust="spacingAndGlyphs" >Ctrl ASO</text>
<text x="58.2" y="311.8" font-size="5" font-weight="bold" fill="#2b2d80" text-anchor="middle" stroke="#2b2d80" stroke-width="0.22" textLength="14.5" lengthAdjust="spacingAndGlyphs" >792156</text>
<text x="128.6" y="306.2" font-size="5" font-weight="bold" fill="#2b2d80" text-anchor="middle" stroke="#2b2d80" stroke-width="0.22" textLength="18.2" lengthAdjust="spacingAndGlyphs" >Ctrl ASO</text>
<text x="128.6" y="311.8" font-size="5" font-weight="bold" fill="#2b2d80" text-anchor="middle" stroke="#2b2d80" stroke-width="0.22" textLength="14.5" lengthAdjust="spacingAndGlyphs" >549148</text>
<text x="201.6" y="306.2" font-size="5" font-weight="bold" fill="#2b2d80" text-anchor="middle" stroke="#2b2d80" stroke-width="0.22" textLength="23.8" lengthAdjust="spacingAndGlyphs" >STAT6 ASO</text>
<text x="201.6" y="311.8" font-size="5" font-weight="bold" fill="#2b2d80" text-anchor="middle" stroke="#2b2d80" stroke-width="0.22" textLength="14.2" lengthAdjust="spacingAndGlyphs" >867792</text>
<text x="185.3" y="318" font-size="5.0" font-weight="bold" fill="#2b2d80" stroke="#2b2d80" stroke-width="0.2" textLength="39.9" lengthAdjust="spacingAndGlyphs">IC<tspan font-size="3.2" dy="1.1">50</tspan><tspan dy="-1.1"> = 1.46 </tspan><tspan font-weight="normal" stroke-width="0.1">µmol/L</tspan></text>
<text x="269.7" y="306.2" font-size="5" font-weight="bold" fill="#2b2d80" text-anchor="middle" stroke="#2b2d80" stroke-width="0.22" textLength="23.8" lengthAdjust="spacingAndGlyphs" >STAT6 ASO</text>
<text x="269.7" y="311.8" font-size="5" font-weight="bold" fill="#2b2d80" text-anchor="middle" stroke="#2b2d80" stroke-width="0.22" textLength="14.2" lengthAdjust="spacingAndGlyphs" >867776</text>
<text x="256.3" y="318" font-size="5.0" font-weight="bold" fill="#2b2d80" stroke="#2b2d80" stroke-width="0.2" textLength="36.5" lengthAdjust="spacingAndGlyphs">IC<tspan font-size="3.2" dy="1.1">50</tspan><tspan dy="-1.1"> = 0.8 </tspan><tspan font-weight="normal" stroke-width="0.1">µmol/L</tspan></text>
<text x="143" y="395.8" font-size="6.4" font-weight="bold" fill="#2b2d80" text-anchor="start" stroke="#2b2d80" stroke-width="0.22" textLength="40.8" lengthAdjust="spacingAndGlyphs" >(ASO µmol/L)</text>
<line x1="332.9" y1="24" x2="332.9" y2="93.5" stroke="#a4a4b0" stroke-width="1.3"/>
<line x1="332.9" y1="93.5" x2="402.5" y2="93.5" stroke="#6e6e78" stroke-width="1.1"/>
<line x1="331.3" y1="93.5" x2="332.9" y2="93.5" stroke="#8e8e9e" stroke-width="0.9"/>
<text x="329.9" y="95.6" font-size="5.8" font-weight="normal" fill="#222222" text-anchor="end" stroke="#222222" stroke-width="0.2" textLength="2.7" lengthAdjust="spacingAndGlyphs" >0</text>
<line x1="331.3" y1="70.33" x2="332.9" y2="70.33" stroke="#8e8e9e" stroke-width="0.9"/>
<text x="329.9" y="72.43" font-size="5.8" font-weight="normal" fill="#222222" text-anchor="end" stroke="#222222" stroke-width="0.2" textLength="5.4" lengthAdjust="spacingAndGlyphs" >50</text>
<line x1="331.3" y1="47.17" x2="332.9" y2="47.17" stroke="#8e8e9e" stroke-width="0.9"/>
<text x="329.9" y="49.27" font-size="5.8" font-weight="normal" fill="#222222" text-anchor="end" stroke="#222222" stroke-width="0.2" textLength="8.1" lengthAdjust="spacingAndGlyphs" >100</text>
<line x1="331.3" y1="24" x2="332.9" y2="24" stroke="#8e8e9e" stroke-width="0.9"/>
<text x="329.9" y="26.1" font-size="5.8" font-weight="normal" fill="#222222" text-anchor="end" stroke="#222222" stroke-width="0.2" textLength="8.1" lengthAdjust="spacingAndGlyphs" >150</text>
<text transform="translate(316.5,58.2) rotate(-90)" font-size="6.4" font-weight="normal" fill="#222222" text-anchor="middle" stroke="#222222" stroke-width="0.2" textLength="25" lengthAdjust="spacingAndGlyphs" >PBS (%)</text>
<line x1="344.15" y1="45.78" x2="344.15" y2="47.63" stroke="#2e3192" stroke-width="1"/>
<line x1="340.55" y1="45.78" x2="347.75" y2="45.78" stroke="#2e3192" stroke-width="1"/>
<rect x="336.4" y="47.63" width="15.5" height="45.87" fill="#2e3192"/>
<line x1="344.15" y1="93.5" x2="344.15" y2="95" stroke="#8e8e9e" stroke-width="0.9"/>
<line x1="367.55" y1="43.46" x2="367.55" y2="49.48" stroke="#ec1c24" stroke-width="1"/>
<line x1="363.95" y1="43.46" x2="371.15" y2="43.46" stroke="#ec1c24" stroke-width="1"/>
<rect x="359.8" y="49.48" width="15.5" height="44.02" fill="#ec1c24"/>
<line x1="367.55" y1="93.5" x2="367.55" y2="95" stroke="#8e8e9e" stroke-width="0.9"/>
<rect x="382.9" y="91.65" width="15.5" height="1.85" fill="#2fb34a"/>
<line x1="390.65" y1="93.5" x2="390.65" y2="95" stroke="#8e8e9e" stroke-width="0.9"/>
<text x="390" y="86.5" font-size="6" font-weight="bold" fill="#222" text-anchor="middle" stroke="#222" stroke-width="0.12" >***</text>
<text transform="translate(345.6,102.79) rotate(-45)" font-size="5.9" font-weight="normal" fill="#222222" text-anchor="end" stroke="#222222" stroke-width="0.26" textLength="11" lengthAdjust="spacingAndGlyphs" >PBS</text>
<text transform="translate(369.8,100.79) rotate(-45)" font-size="5.9" font-weight="normal" fill="#222222" text-anchor="end" stroke="#222222" stroke-width="0.26" textLength="33.77" lengthAdjust="spacingAndGlyphs" >Control ASO</text>
<text transform="translate(393.4,100.79) rotate(-45)" font-size="5.9" font-weight="normal" fill="#222222" text-anchor="end" stroke="#222222" stroke-width="0.26" textLength="32.49" lengthAdjust="spacingAndGlyphs" >STAT6 ASO</text>
<text x="349" y="13.8" font-size="6.9" fill="#231f20" stroke="#231f20" stroke-width="0.2" textLength="36" lengthAdjust="spacingAndGlyphs"><tspan font-style="italic">Stat6</tspan> mRNA</text>
<text x="360.8" y="21.2" font-size="6.9" font-weight="normal" fill="#231f20" text-anchor="start" stroke="#231f20" stroke-width="0.2" textLength="12.7" lengthAdjust="spacingAndGlyphs" >Liver</text>
<line x1="449.8" y1="26" x2="449.8" y2="95" stroke="#a4a4b0" stroke-width="1.3"/>
<line x1="449.8" y1="95" x2="520" y2="95" stroke="#6e6e78" stroke-width="1.1"/>
<line x1="448.2" y1="95" x2="449.8" y2="95" stroke="#8e8e9e" stroke-width="0.9"/>
<text x="446.8" y="97.1" font-size="5.8" font-weight="normal" fill="#222222" text-anchor="end" stroke="#222222" stroke-width="0.2" textLength="2.7" lengthAdjust="spacingAndGlyphs" >0</text>
<line x1="448.2" y1="77.75" x2="449.8" y2="77.75" stroke="#8e8e9e" stroke-width="0.9"/>
<text x="446.8" y="79.85" font-size="5.8" font-weight="normal" fill="#222222" text-anchor="end" stroke="#222222" stroke-width="0.2" textLength="5.4" lengthAdjust="spacingAndGlyphs" >50</text>
<line x1="448.2" y1="60.5" x2="449.8" y2="60.5" stroke="#8e8e9e" stroke-width="0.9"/>
<text x="446.8" y="62.6" font-size="5.8" font-weight="normal" fill="#222222" text-anchor="end" stroke="#222222" stroke-width="0.2" textLength="8.1" lengthAdjust="spacingAndGlyphs" >100</text>
<line x1="448.2" y1="43.25" x2="449.8" y2="43.25" stroke="#8e8e9e" stroke-width="0.9"/>
<text x="446.8" y="45.35" font-size="5.8" font-weight="normal" fill="#222222" text-anchor="end" stroke="#222222" stroke-width="0.2" textLength="8.1" lengthAdjust="spacingAndGlyphs" >150</text>
<line x1="448.2" y1="26" x2="449.8" y2="26" stroke="#8e8e9e" stroke-width="0.9"/>
<text x="446.8" y="28.1" font-size="5.8" font-weight="normal" fill="#222222" text-anchor="end" stroke="#222222" stroke-width="0.2" textLength="8.1" lengthAdjust="spacingAndGlyphs" >200</text>
<text transform="translate(433.3,57.8) rotate(-90)" font-size="6.4" font-weight="normal" fill="#222222" text-anchor="middle" stroke="#222222" stroke-width="0.2" textLength="25" lengthAdjust="spacingAndGlyphs" >PBS (%)</text>
<line x1="462.3" y1="51.88" x2="462.3" y2="60.5" stroke="#2e3192" stroke-width="1"/>
<line x1="458.7" y1="51.88" x2="465.9" y2="51.88" stroke="#2e3192" stroke-width="1"/>
<rect x="454.6" y="60.5" width="15.4" height="34.5" fill="#2e3192"/>
<line x1="462.3" y1="95" x2="462.3" y2="96.5" stroke="#8e8e9e" stroke-width="0.9"/>
<line x1="485" y1="39.8" x2="485" y2="43.25" stroke="#ec1c24" stroke-width="1"/>
<line x1="481.4" y1="39.8" x2="488.6" y2="39.8" stroke="#ec1c24" stroke-width="1"/>
<rect x="477.3" y="43.25" width="15.4" height="51.75" fill="#ec1c24"/>
<line x1="485" y1="95" x2="485" y2="96.5" stroke="#8e8e9e" stroke-width="0.9"/>
<line x1="508.1" y1="84.65" x2="508.1" y2="86.72" stroke="#2fb34a" stroke-width="1"/>
<line x1="504.5" y1="84.65" x2="511.7" y2="84.65" stroke="#2fb34a" stroke-width="1"/>
<rect x="500.4" y="86.72" width="15.4" height="8.28" fill="#2fb34a"/>
<line x1="508.1" y1="95" x2="508.1" y2="96.5" stroke="#8e8e9e" stroke-width="0.9"/>
<text x="508.6" y="81" font-size="6" font-weight="bold" fill="#222" text-anchor="middle" stroke="#222" stroke-width="0.12" >*</text>
<text transform="translate(463.3,103.99) rotate(-45)" font-size="5.9" font-weight="normal" fill="#222222" text-anchor="end" stroke="#222222" stroke-width="0.26" textLength="11.14" lengthAdjust="spacingAndGlyphs" >PBS</text>
<text transform="translate(486.8,102.39) rotate(-45)" font-size="5.9" font-weight="normal" fill="#222222" text-anchor="end" stroke="#222222" stroke-width="0.26" textLength="33.48" lengthAdjust="spacingAndGlyphs" >Control ASO</text>
<text transform="translate(510.4,102.39) rotate(-45)" font-size="5.9" font-weight="normal" fill="#222222" text-anchor="end" stroke="#222222" stroke-width="0.26" textLength="31.65" lengthAdjust="spacingAndGlyphs" >STAT6 ASO</text>
<text x="467.1" y="15.2" font-size="6.9" fill="#231f20" stroke="#231f20" stroke-width="0.2" textLength="36" lengthAdjust="spacingAndGlyphs"><tspan font-style="italic">Stat6</tspan> mRNA</text>
<text x="474.5" y="22" font-size="6.9" font-weight="normal" fill="#231f20" text-anchor="start" stroke="#231f20" stroke-width="0.2" textLength="21.2" lengthAdjust="spacingAndGlyphs" >Spleen</text>
<line x1="336.8" y1="165.8" x2="336.8" y2="232.5" stroke="#a4a4b0" stroke-width="1.3"/>
<line x1="336.8" y1="232.5" x2="404.6" y2="232.5" stroke="#6e6e78" stroke-width="1.1"/>
<line x1="335.2" y1="232.5" x2="336.8" y2="232.5" stroke="#8e8e9e" stroke-width="0.9"/>
<text x="333.8" y="234.6" font-size="5.8" font-weight="normal" fill="#222222" text-anchor="end" stroke="#222222" stroke-width="0.2" textLength="2.7" lengthAdjust="spacingAndGlyphs" >0</text>
<line x1="335.2" y1="210.27" x2="336.8" y2="210.27" stroke="#8e8e9e" stroke-width="0.9"/>
<text x="333.8" y="212.37" font-size="5.8" font-weight="normal" fill="#222222" text-anchor="end" stroke="#222222" stroke-width="0.2" textLength="5.4" lengthAdjust="spacingAndGlyphs" >50</text>
<line x1="335.2" y1="188.03" x2="336.8" y2="188.03" stroke="#8e8e9e" stroke-width="0.9"/>
<text x="333.8" y="190.13" font-size="5.8" font-weight="normal" fill="#222222" text-anchor="end" stroke="#222222" stroke-width="0.2" textLength="8.1" lengthAdjust="spacingAndGlyphs" >100</text>
<line x1="335.2" y1="165.8" x2="336.8" y2="165.8" stroke="#8e8e9e" stroke-width="0.9"/>
<text x="333.8" y="167.9" font-size="5.8" font-weight="normal" fill="#222222" text-anchor="end" stroke="#222222" stroke-width="0.2" textLength="8.1" lengthAdjust="spacingAndGlyphs" >150</text>
<text transform="translate(321.2,198.4) rotate(-90)" font-size="6.4" font-weight="normal" fill="#222222" text-anchor="middle" stroke="#222222" stroke-width="0.2" textLength="25" lengthAdjust="spacingAndGlyphs" >PBS (%)</text>
<line x1="348.2" y1="169.8" x2="348.2" y2="188.03" stroke="#2e3192" stroke-width="1"/>
<line x1="344.6" y1="169.8" x2="351.8" y2="169.8" stroke="#2e3192" stroke-width="1"/>
<rect x="340.8" y="188.03" width="14.8" height="44.47" fill="#2e3192"/>
<line x1="348.2" y1="232.5" x2="348.2" y2="234" stroke="#8e8e9e" stroke-width="0.9"/>
<line x1="370.9" y1="184.03" x2="370.9" y2="194.26" stroke="#ec1c24" stroke-width="1"/>
<line x1="367.3" y1="184.03" x2="374.5" y2="184.03" stroke="#ec1c24" stroke-width="1"/>
<rect x="363.5" y="194.26" width="14.8" height="38.24" fill="#ec1c24"/>
<line x1="370.9" y1="232.5" x2="370.9" y2="234" stroke="#8e8e9e" stroke-width="0.9"/>
<line x1="393.7" y1="227.16" x2="393.7" y2="229.83" stroke="#2fb34a" stroke-width="1"/>
<line x1="390.1" y1="227.16" x2="397.3" y2="227.16" stroke="#2fb34a" stroke-width="1"/>
<rect x="386.3" y="229.83" width="14.8" height="2.67" fill="#2fb34a"/>
<line x1="393.7" y1="232.5" x2="393.7" y2="234" stroke="#8e8e9e" stroke-width="0.9"/>
<text x="396.9" y="225.3" font-size="6" font-weight="bold" fill="#222" text-anchor="middle" stroke="#222" stroke-width="0.12" >*</text>
<text transform="translate(349.3,240.79) rotate(-45)" font-size="5.9" font-weight="normal" fill="#222222" text-anchor="end" stroke="#222222" stroke-width="0.26" textLength="10.57" lengthAdjust="spacingAndGlyphs" >PBS</text>
<text transform="translate(372.8,239.39) rotate(-45)" font-size="5.9" font-weight="normal" fill="#222222" text-anchor="end" stroke="#222222" stroke-width="0.26" textLength="32.92" lengthAdjust="spacingAndGlyphs" >Control ASO</text>
<text transform="translate(395.7,238.79) rotate(-45)" font-size="5.9" font-weight="normal" fill="#222222" text-anchor="end" stroke="#222222" stroke-width="0.26" textLength="31.36" lengthAdjust="spacingAndGlyphs" >STAT6 ASO</text>
<text x="353.5" y="150.1" font-size="6.9" fill="#231f20" stroke="#231f20" stroke-width="0.2" textLength="35.4" lengthAdjust="spacingAndGlyphs"><tspan font-style="italic">Stat6</tspan> mRNA</text>
<text x="336" y="157.5" font-size="6.9" font-weight="normal" fill="#231f20" text-anchor="start" stroke="#231f20" stroke-width="0.2" textLength="69.8" lengthAdjust="spacingAndGlyphs" >Peritoneal macrophages</text>
<line x1="448" y1="166" x2="448" y2="231.4" stroke="#a4a4b0" stroke-width="1.3"/>
<line x1="448" y1="231.4" x2="518" y2="231.4" stroke="#6e6e78" stroke-width="1.1"/>
<line x1="446.4" y1="231.4" x2="448" y2="231.4" stroke="#8e8e9e" stroke-width="0.9"/>
<text x="445" y="233.5" font-size="5.8" font-weight="normal" fill="#222222" text-anchor="end" stroke="#222222" stroke-width="0.2" textLength="2.7" lengthAdjust="spacingAndGlyphs" >0</text>
<line x1="446.4" y1="209.6" x2="448" y2="209.6" stroke="#8e8e9e" stroke-width="0.9"/>
<text x="445" y="211.7" font-size="5.8" font-weight="normal" fill="#222222" text-anchor="end" stroke="#222222" stroke-width="0.2" textLength="5.4" lengthAdjust="spacingAndGlyphs" >50</text>
<line x1="446.4" y1="187.8" x2="448" y2="187.8" stroke="#8e8e9e" stroke-width="0.9"/>
<text x="445" y="189.9" font-size="5.8" font-weight="normal" fill="#222222" text-anchor="end" stroke="#222222" stroke-width="0.2" textLength="8.1" lengthAdjust="spacingAndGlyphs" >100</text>
<line x1="446.4" y1="166" x2="448" y2="166" stroke="#8e8e9e" stroke-width="0.9"/>
<text x="445" y="168.1" font-size="5.8" font-weight="normal" fill="#222222" text-anchor="end" stroke="#222222" stroke-width="0.2" textLength="8.1" lengthAdjust="spacingAndGlyphs" >150</text>
<text transform="translate(432.2,198.9) rotate(-90)" font-size="6.4" font-weight="normal" fill="#222222" text-anchor="middle" stroke="#222222" stroke-width="0.2" textLength="25" lengthAdjust="spacingAndGlyphs" >PBS (%)</text>
<line x1="460.9" y1="175.16" x2="460.9" y2="187.8" stroke="#2e3192" stroke-width="1"/>
<line x1="457.3" y1="175.16" x2="464.5" y2="175.16" stroke="#2e3192" stroke-width="1"/>
<rect x="453.4" y="187.8" width="15" height="43.6" fill="#2e3192"/>
<line x1="460.9" y1="231.4" x2="460.9" y2="232.9" stroke="#8e8e9e" stroke-width="0.9"/>
<line x1="483.6" y1="174.72" x2="483.6" y2="182.13" stroke="#ec1c24" stroke-width="1"/>
<line x1="480" y1="174.72" x2="487.2" y2="174.72" stroke="#ec1c24" stroke-width="1"/>
<rect x="476.1" y="182.13" width="15" height="49.27" fill="#ec1c24"/>
<line x1="483.6" y1="231.4" x2="483.6" y2="232.9" stroke="#8e8e9e" stroke-width="0.9"/>
<rect x="498.6" y="230.09" width="15" height="1.31" fill="#2fb34a"/>
<line x1="506.1" y1="231.4" x2="506.1" y2="232.9" stroke="#8e8e9e" stroke-width="0.9"/>
<text x="506.7" y="227" font-size="6" font-weight="bold" fill="#222" text-anchor="middle" stroke="#222" stroke-width="0.12" >*</text>
<text transform="translate(461.9,240.09) rotate(-45)" font-size="5.9" font-weight="normal" fill="#222222" text-anchor="end" stroke="#222222" stroke-width="0.26" textLength="10.43" lengthAdjust="spacingAndGlyphs" >PBS</text>
<text transform="translate(485.8,238.79) rotate(-45)" font-size="5.9" font-weight="normal" fill="#222222" text-anchor="end" stroke="#222222" stroke-width="0.26" textLength="32.49" lengthAdjust="spacingAndGlyphs" >Control ASO</text>
<text transform="translate(509,238.79) rotate(-45)" font-size="5.9" font-weight="normal" fill="#222222" text-anchor="end" stroke="#222222" stroke-width="0.26" textLength="29.95" lengthAdjust="spacingAndGlyphs" >STAT6 ASO</text>
<text x="466.7" y="148.6" font-size="6.9" fill="#231f20" stroke="#231f20" stroke-width="0.2" textLength="35.3" lengthAdjust="spacingAndGlyphs"><tspan font-style="italic">Stat6</tspan> mRNA</text>
<text x="449.1" y="156.4" font-size="6.9" font-weight="normal" fill="#231f20" text-anchor="start" stroke="#231f20" stroke-width="0.2" textLength="69.9" lengthAdjust="spacingAndGlyphs" >Peritoneal macrophages</text>
<text x="469.9" y="164.3" font-size="6.9" font-weight="normal" fill="#231f20" text-anchor="start" stroke="#231f20" stroke-width="0.2" textLength="29" lengthAdjust="spacingAndGlyphs" >IFNγ+LPS</text>
<line x1="395.3" y1="299.8" x2="395.3" y2="365.5" stroke="#a4a4b0" stroke-width="1.3"/>
<line x1="395.3" y1="365.5" x2="463.7" y2="365.5" stroke="#6e6e78" stroke-width="1.1"/>
<line x1="393.7" y1="365.5" x2="395.3" y2="365.5" stroke="#8e8e9e" stroke-width="0.9"/>
<text x="392.3" y="367.6" font-size="5.8" font-weight="normal" fill="#222222" text-anchor="end" stroke="#222222" stroke-width="0.2" textLength="2.7" lengthAdjust="spacingAndGlyphs" >0</text>
<line x1="393.7" y1="343.6" x2="395.3" y2="343.6" stroke="#8e8e9e" stroke-width="0.9"/>
<text x="392.3" y="345.7" font-size="5.8" font-weight="normal" fill="#222222" text-anchor="end" stroke="#222222" stroke-width="0.2" textLength="5.4" lengthAdjust="spacingAndGlyphs" >50</text>
<line x1="393.7" y1="321.7" x2="395.3" y2="321.7" stroke="#8e8e9e" stroke-width="0.9"/>
<text x="392.3" y="323.8" font-size="5.8" font-weight="normal" fill="#222222" text-anchor="end" stroke="#222222" stroke-width="0.2" textLength="8.1" lengthAdjust="spacingAndGlyphs" >100</text>
<line x1="393.7" y1="299.8" x2="395.3" y2="299.8" stroke="#8e8e9e" stroke-width="0.9"/>
<text x="392.3" y="301.9" font-size="5.8" font-weight="normal" fill="#222222" text-anchor="end" stroke="#222222" stroke-width="0.2" textLength="8.1" lengthAdjust="spacingAndGlyphs" >150</text>
<text transform="translate(378.2,331.6) rotate(-90)" font-size="6.4" font-weight="normal" fill="#222222" text-anchor="middle" stroke="#222222" stroke-width="0.2" textLength="25" lengthAdjust="spacingAndGlyphs" >PBS (%)</text>
<line x1="407.1" y1="305.49" x2="407.1" y2="321.7" stroke="#2e3192" stroke-width="1"/>
<line x1="403.5" y1="305.49" x2="410.7" y2="305.49" stroke="#2e3192" stroke-width="1"/>
<rect x="399.6" y="321.7" width="15" height="43.8" fill="#2e3192"/>
<line x1="407.1" y1="365.5" x2="407.1" y2="367" stroke="#8e8e9e" stroke-width="0.9"/>
<line x1="429.8" y1="330.46" x2="429.8" y2="336.15" stroke="#ec1c24" stroke-width="1"/>
<line x1="426.2" y1="330.46" x2="433.4" y2="330.46" stroke="#ec1c24" stroke-width="1"/>
<rect x="422.3" y="336.15" width="15" height="29.35" fill="#ec1c24"/>
<line x1="429.8" y1="365.5" x2="429.8" y2="367" stroke="#8e8e9e" stroke-width="0.9"/>
<line x1="452.4" y1="362.43" x2="452.4" y2="363.31" stroke="#2fb34a" stroke-width="1"/>
<line x1="448.8" y1="362.43" x2="456" y2="362.43" stroke="#2fb34a" stroke-width="1"/>
<rect x="444.9" y="363.31" width="15" height="2.19" fill="#2fb34a"/>
<line x1="452.4" y1="365.5" x2="452.4" y2="367" stroke="#8e8e9e" stroke-width="0.9"/>
<text x="452.5" y="359.5" font-size="6" font-weight="bold" fill="#222" text-anchor="middle" stroke="#222" stroke-width="0.12" >*</text>
<text transform="translate(407.9,373.79) rotate(-45)" font-size="5.9" font-weight="normal" fill="#222222" text-anchor="end" stroke="#222222" stroke-width="0.26" textLength="10.01" lengthAdjust="spacingAndGlyphs" >PBS</text>
<text transform="translate(431.9,372.39) rotate(-45)" font-size="5.9" font-weight="normal" fill="#222222" text-anchor="end" stroke="#222222" stroke-width="0.26" textLength="29.1" lengthAdjust="spacingAndGlyphs" >control ASO</text>
<text transform="translate(455,372.39) rotate(-45)" font-size="5.9" font-weight="normal" fill="#222222" text-anchor="end" stroke="#222222" stroke-width="0.26" textLength="30.51" lengthAdjust="spacingAndGlyphs" >STAT6 ASO</text>
<text x="411.9" y="283.1" font-size="6.9" fill="#231f20" stroke="#231f20" stroke-width="0.2" textLength="36" lengthAdjust="spacingAndGlyphs"><tspan font-style="italic">Stat6</tspan> mRNA</text>
<text x="394.6" y="290.8" font-size="6.9" font-weight="normal" fill="#231f20" text-anchor="start" stroke="#231f20" stroke-width="0.2" textLength="70.6" lengthAdjust="spacingAndGlyphs" >Peritoneal macrophages</text>
<text x="417.7" y="297.9" font-size="6.9" font-weight="normal" fill="#231f20" text-anchor="start" stroke="#231f20" stroke-width="0.2" textLength="26.3" lengthAdjust="spacingAndGlyphs" >IL4+IL13</text>
<text x="3" y="10.8" font-size="12.2" font-weight="bold" fill="#000" text-anchor="start" stroke="#000" stroke-width="0.12" >A</text>
<text x="2.8" y="146.2" font-size="12.2" font-weight="bold" fill="#000" text-anchor="start" stroke="#000" stroke-width="0.12" >B</text>
<text x="302.8" y="10" font-size="12.2" font-weight="bold" fill="#000" text-anchor="start" stroke="#000" stroke-width="0.12" >C</text>
<text x="302.8" y="146.5" font-size="12.2" font-weight="bold" fill="#000" text-anchor="start" stroke="#000" stroke-width="0.12" >D</text>
</svg>
</body></html>
